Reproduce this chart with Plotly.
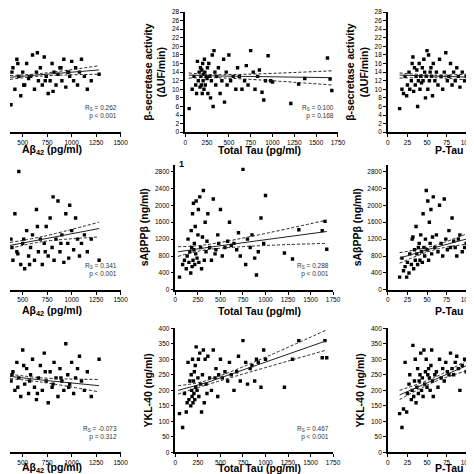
import plotly.graph_objects as go

# --- data ---
ab42 = [380,400,420,440,460,480,500,520,540,560,580,600,620,640,660,680,700,720,740,760,
        780,800,820,840,860,880,900,920,940,960,980,1000,1020,1040,1060,1080,1100,1130,1160,1200,
        1280,390,450,510,570,650,730,810,890,970]
ab42_bsec = [6.4,15,10,17,13,8.5,14,11,16,12.5,13,18,10,14,12,15,11,17.5,13,9,
             12,16,14,11,13.5,15,12,17,10.5,14,13,16.5,12,15,11,14,17,13,10,12,
             13.5,14,16,11,13,18.5,12,9.5,15,14]
ab42_sapp = [1200,700,1800,900,2800,600,1100,500,1400,800,1000,1300,700,1900,900,1200,600,1100,1500,800,
             1700,1000,700,1200,2100,900,1300,650,1800,1100,2000,1400,950,1700,1200,800,1100,1300,900,1200,
             700,1000,850,1200,600,1500,900,2200,1100,750]
ab42_ykl = [230,260,200,290,240,180,330,220,270,190,250,300,210,170,240,280,200,320,230,160,
            260,210,290,240,180,270,230,200,350,250,220,290,190,240,270,310,230,200,260,180,
            300,250,210,280,230,190,260,220,240,210]

tau = [45,80,100,120,130,140,150,160,170,175,180,185,190,195,200,205,210,215,220,225,
       230,240,250,255,260,270,280,290,300,310,320,330,340,350,360,380,400,420,440,450,
       470,480,500,520,550,580,600,620,650,680,700,720,750,780,800,830,850,880,900,920,
       950,980,1000,1210,1300,1370,1630,1660,1680]
tau_bsec = [5.5,10,13,11,9,16.5,12,14,10.5,15,13,11,14.5,9,16,12,13.5,10,17,14,
            11,13,12.5,15,9,16,13,8,12,18,6,19,14,11,13,15,9,12,17,7,
            14,11,18,12,13,10,15,13,10,12,15.5,11,19,14,10,13,14.5,9.3,7.5,12,
            17.8,12,11.7,6.7,11.2,12.5,17.3,12.4,9.7]
tau_sapp = [300,600,700,500,800,1200,650,900,400,1400,1000,550,1800,700,2050,950,1100,600,1500,850,
            2100,750,1300,1900,650,2200,1000,500,1250,2350,700,1600,900,1150,1800,1000,700,2150,850,950,
            1300,1100,1900,800,1000,1150,1600,1050,1100,950,1350,800,2850,600,1200,1000,1300,750,350,900,
            1700,1100,2230,870,730,1420,1400,1620,960]
tau_ykl = [125,80,190,130,160,290,170,230,150,250,200,180,300,160,230,190,260,170,280,210,
           340,200,240,300,180,320,220,130,250,330,160,300,220,190,310,240,200,330,240,270,
           180,250,300,240,260,230,290,250,200,260,310,230,360,290,220,270,280,230,300,290,
           210,330,300,210,300,360,305,360,305]

ptau = [15,18,20,22,24,25,27,28,30,31,32,33,34,35,36,37,38,39,40,41,
        42,43,44,45,46,47,48,49,50,51,52,53,54,55,56,57,58,60,62,64,
        66,68,70,72,74,76,78,80,82,84,86,88,90,92,95,98,100,103,106,109]
ptau_bsec = [5.5,10,9,13,8.5,11,14,10,12,16,17.5,9.5,15,11,13,14.5,6,12,16,10,
             13,11.5,15,12,17,14,8,13,19,10,18,12,14,15,13,8.5,16,12,14,11,
             17,13,10,14,18.5,12,13,16,11,14,12,15,13,10.5,14,12,13,11,15,12]
ptau_sapp = [300,750,450,550,300,650,400,850,600,1200,1250,500,950,700,1500,850,600,1000,1100,700,
             1300,900,650,1800,1000,800,1200,2350,950,2100,700,1600,1100,1900,850,1250,2200,1000,1300,900,
             2000,1100,800,2150,1200,950,1400,1000,1700,1150,1000,800,1200,1300,900,1000,1100,1250,950,1200]
ptau_ykl = [125,80,140,290,130,190,220,250,170,200,345,180,230,300,160,210,270,190,230,250,
            320,200,240,180,330,220,260,300,210,250,270,240,200,280,330,230,180,250,260,210,
            300,240,270,230,290,260,250,320,270,250,290,310,270,200,280,300,260,290,270,310]

# regression line and 95% band: x, fit, upper, lower
fit_ab42_bsec = ([370, 700, 1280], [12.8, 13.4, 14.5], [13.2, 13.7, 15.5], [12.3, 13.1, 13.5])
fit_ab42_sapp = ([370, 700, 1280], [1050, 1200, 1450], [1120, 1260, 1600], [980, 1140, 1250])
fit_ab42_ykl = ([370, 700, 1280], [245, 233, 215], [252, 240, 235], [238, 226, 195])
fit_tau_bsec = ([40, 350, 1680], [13.3, 13.1, 12.7], [13.8, 13.4, 14.3], [12.6, 12.7, 11.0])
fit_tau_sapp = ([30, 350, 1680], [900, 1000, 1380], [1020, 1070, 1650], [790, 950, 1100])
fit_tau_ykl = ([30, 350, 1680], [200, 225, 360], [215, 232, 395], [188, 218, 330])
fit_ptau_bsec = ([15, 60, 110], [13.3, 13.0, 12.8], [13.8, 13.3, 13.6], [12.6, 12.7, 12.0])
fit_ptau_sapp = ([15, 60, 110], [750, 1000, 1250], [880, 1050, 1400], [630, 950, 1100])
fit_ptau_ykl = ([15, 60, 110], [185, 235, 290], [200, 242, 310], [170, 228, 270])

stats = {
    (0, 0): ("0.262", "p < 0.001"), (0, 1): ("0.100", "p = 0.168"),
    (1, 0): ("0.341", "p < 0.001"), (1, 1): ("0.288", "p < 0.001"),
    (2, 0): ("-0.073", "p = 0.312"), (2, 1): ("0.467", "p < 0.001"),
}

FONT = "Liberation Sans"
W = 474.0

# pixel placement of each panel (x0, x1) by column and (bottom, top) by row
col_px = {0: (0, 113), 1: (169, 330), 2: (386, 474)}
row_px = {0: (122, 0), 1: (282, 155), 2: (447, 321)}
row_xtitle_px = {0: 140, 1: 303, 2: 463}
col_range = {0: [370, 1500], 1: [0, 1750], 2: [0, 110]}
col_ticks = {0: [500, 750, 1000, 1250, 1500], 1: list(range(0, 1751, 250)), 2: [0, 25, 50, 75, 100]}
row_range = {0: [0, 28], 1: [0, 2960], 2: [0, 400]}
row_dtick = {0: 2, 1: 400, 2: 50}
row_title = {0: "<b>β-secretase activity<br>(ΔUF/min)</b>",
             1: "<b>sAβPPβ (ng/ml)</b>", 2: "<b>YKL-40 (ng/ml)</b>"}
col_xtitle = {0: "<b>Aβ<sub>42</sub> (pg/ml)</b>", 1: "<b>Total Tau (pg/ml)</b>",
              2: "<b>P-Tau (pg/ml)</b>"}

panels = [
    [(ab42, ab42_bsec, fit_ab42_bsec), (tau, tau_bsec, fit_tau_bsec), (ptau, ptau_bsec, fit_ptau_bsec)],
    [(ab42, ab42_sapp, fit_ab42_sapp), (tau, tau_sapp, fit_tau_sapp), (ptau, ptau_sapp, fit_ptau_sapp)],
    [(ab42, ab42_ykl, fit_ab42_ykl), (tau, tau_ykl, fit_tau_ykl), (ptau, ptau_ykl, fit_ptau_ykl)],
]

fig = go.Figure()
annotations = []
layout = {}
n = 0
for r in range(3):
    for c in range(3):
        n += 1
        xa = "x" if n == 1 else "x%d" % n
        ya = "y" if n == 1 else "y%d" % n
        xs, ys, fit = panels[r][c]
        fig.add_trace(go.Scatter(x=xs, y=ys, mode="markers", xaxis=xa, yaxis=ya,
                                 marker=dict(color="black", size=3.4, symbol="square"),
                                 showlegend=False, cliponaxis=True))
        fx, fm, fu, fl = fit
        fig.add_trace(go.Scatter(x=fx, y=fm, mode="lines", xaxis=xa, yaxis=ya, showlegend=False,
                                 line=dict(color="#222", width=1)))
        for band in (fu, fl):
            fig.add_trace(go.Scatter(x=fx, y=band, mode="lines", xaxis=xa, yaxis=ya, showlegend=False,
                                     line=dict(color="#222", width=1, dash="3px,2px", shape="spline")))

        x0, x1 = col_px[c]
        if r == 0 and c == 1:
            x0, x1 = 179, 335
        yb, yt = row_px[r]
        key_x = "xaxis" if n == 1 else "xaxis%d" % n
        key_y = "yaxis" if n == 1 else "yaxis%d" % n
        layout[key_x] = dict(domain=[x0 / W, x1 / W], range=col_range[c], anchor=ya,
                             tickvals=col_ticks[c], showgrid=False, zeroline=False,
                             showline=True, linecolor="black", linewidth=1.5,
                             ticks="outside", ticklen=3, tickcolor="black",
                             tickfont=dict(size=6.5, color="black", family=FONT))
        layout[key_y] = dict(domain=[1 - yb / W, 1 - yt / W], range=row_range[r], anchor=xa,
                             dtick=row_dtick[r], showgrid=False, zeroline=False,
                             showline=True, linecolor="black", linewidth=1.5,
                             ticks="outside", ticklen=3, tickcolor="black",
                             tickfont=dict(size=6.5, color="black", family=FONT),
                             visible=(c != 0),
                             title=dict(text=row_title[r], standoff=4,
                                        font=dict(size=10.5, color="black", family=FONT)))
        # x title
        xt = {0: 43, 1: 255, 2: 432}[c]
        annotations.append(dict(text=col_xtitle[c], xref="paper", yref="paper",
                                x=xt / W, y=1 - row_xtitle_px[r] / W, yanchor="middle",
                                xanchor="left" if c == 2 else "center", showarrow=False,
                                font=dict(size=10.5, color="black", family=FONT)))
        if (r, c) in stats:
            rs, p = stats[(r, c)]
            annotations.append(dict(text="R<sub>S</sub> = " + rs + "<br>" + p, xref="paper", yref="paper",
                                    x=(x1 - 2) / W, y=1 - (yb - 10) / W, xanchor="right", yanchor="bottom",
                                    align="right", showarrow=False,
                                    font=dict(size=6.5, color="#333", family=FONT)))

annotations.append(dict(text="<b>1</b>", xref="paper", yref="paper", x=175 / W, y=1 - 147 / W,
                        showarrow=False, font=dict(size=9, color="black", family=FONT)))

fig.update_layout(width=474, height=474, margin=dict(l=0, r=0, t=0, b=0),
                  plot_bgcolor="white", paper_bgcolor="white",
                  annotations=annotations, **layout)
fig.write_html("out.html")
